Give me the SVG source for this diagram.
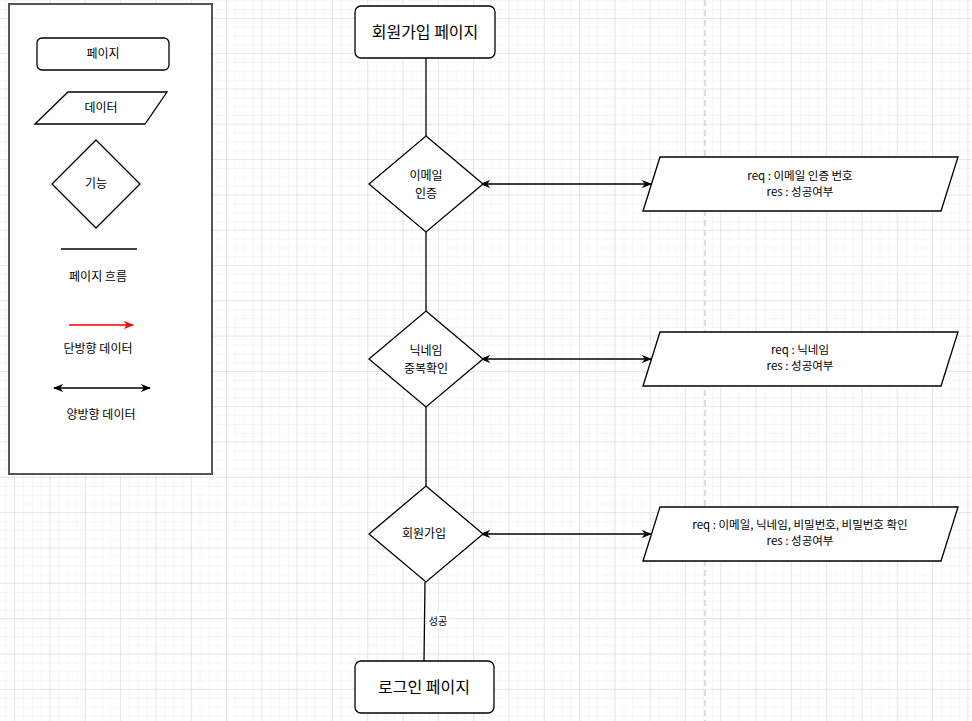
<svg xmlns="http://www.w3.org/2000/svg" width="972" height="721" viewBox="0 0 972 721">
<defs>
<pattern id="minor" x="14.2" y="17.9" width="8.83" height="8.83" patternUnits="userSpaceOnUse"><path d="M0 0H8.83M0 0V8.83" fill="none" stroke="#f0f0f0" stroke-width="1"/></pattern>
<pattern id="major" x="14.2" y="17.9" width="35.3" height="35.3" patternUnits="userSpaceOnUse"><path d="M0 0H35.3M0 0V35.3" fill="none" stroke="#d6d6d6" stroke-width="1"/></pattern>
<marker id="ah" viewBox="0 0 10 10" refX="9" refY="5" markerWidth="8" markerHeight="8" orient="auto-start-reverse"><path d="M0 1L10 5L0 9L3 5Z" fill="#000"/></marker>
<marker id="ahr" viewBox="0 0 10 10" refX="9" refY="5" markerWidth="8" markerHeight="8" orient="auto"><path d="M0 1L10 5L0 9L3 5Z" fill="#f00"/></marker>
</defs>
<style>
.s{fill:#fff;stroke:#000;stroke-width:1.3}
.t{font-family:"Noto Sans CJK KR","Liberation Sans",sans-serif;font-size:12px;text-anchor:middle;fill:#000}
.d{font-family:"Noto Sans CJK KR","Liberation Sans",sans-serif;font-size:11.5px;text-anchor:middle;fill:#000}
.tb{font-family:"Noto Sans CJK KR","Liberation Sans",sans-serif;font-size:16px;text-anchor:middle;fill:#000}
.l{stroke:#000;stroke-width:1.3;fill:none}
</style>
<rect width="972" height="721" fill="#fff"/>
<rect width="972" height="721" fill="url(#minor)"/>
<rect width="972" height="721" fill="url(#major)"/>
<line x1="705" y1="0" x2="705" y2="721" stroke="#ddd" stroke-width="2" stroke-dasharray="6 4"/>
<g id="legend">
<rect x="9" y="4" width="203" height="470" fill="#fff" stroke="#555" stroke-width="2"/>
<rect x="37" y="38" width="132" height="32" rx="5" class="s"/><text x="103" y="58" class="t">페이지</text>
<path d="M35 124L68 92H167L145 124Z" class="s"/><text x="101" y="112" class="t">데이터</text>
<path d="M96 140L140 184L96 228L52 184Z" class="s"/><text x="96" y="188" class="t">기능</text>
<line x1="61" y1="249" x2="137" y2="249" class="l"/><text x="98" y="281" class="t">페이지 흐름</text>
<line x1="69" y1="325" x2="133" y2="325" stroke="#f00" stroke-width="1.3" marker-end="url(#ahr)"/><text x="98" y="353" class="t">단방향 데이터</text>
<line x1="54" y1="388" x2="150" y2="388" class="l" marker-start="url(#ah)" marker-end="url(#ah)"/><text x="101" y="419" class="t">양방향 데이터</text>
</g>
<g id="connectors">
<line x1="426" y1="58" x2="426" y2="136" class="l"/>
<line x1="426" y1="232" x2="426" y2="311" class="l"/>
<line x1="426" y1="407" x2="426" y2="486" class="l"/>
<line x1="425" y1="582" x2="424" y2="661" class="l"/>
<rect x="427" y="613" width="22" height="16" fill="#fff"/><text x="438" y="625" class="t" style="font-size:10px">성공</text>
<line x1="481" y1="184" x2="651" y2="184" class="l" marker-start="url(#ah)" marker-end="url(#ah)"/>
<line x1="481" y1="359" x2="651" y2="359" class="l" marker-start="url(#ah)" marker-end="url(#ah)"/>
<line x1="481" y1="534" x2="651" y2="534" class="l" marker-start="url(#ah)" marker-end="url(#ah)"/>
</g>
<g id="signup"><rect x="355" y="6" width="140" height="52" rx="6" class="s"/><text x="425" y="38" class="tb">회원가입 페이지</text></g>
<g id="email"><path d="M426 136L483 184L426 232L369 184Z" class="s"/><text x="426" y="180" class="t">이메일</text><text x="426" y="198" class="t">인증</text></g>
<g id="nick"><path d="M426 311L483 359L426 407L369 359Z" class="s"/><text x="426" y="355" class="t">닉네임</text><text x="426" y="373" class="t">중복확인</text></g>
<g id="join"><path d="M426 486L483 534L426 582L369 534Z" class="s"/><text x="424" y="538" class="t">회원가입</text></g>
<g id="login"><rect x="355" y="661" width="139" height="52" rx="6" class="s"/><text x="424" y="693" class="tb">로그인 페이지</text></g>
<g id="d1"><path d="M643 211L660 157H958L941 211Z" class="s"/><text x="800" y="180" class="d">req : 이메일 인증 번호</text><text x="800" y="196" class="d">res : 성공여부</text></g>
<g id="d2"><path d="M643 386L660 332H958L941 386Z" class="s"/><text x="800" y="354" class="d">req : 닉네임</text><text x="800" y="370" class="d">res : 성공여부</text></g>
<g id="d3"><path d="M643 561L660 507H958L941 561Z" class="s"/><text x="800" y="529" class="d">req : 이메일, 닉네임, 비밀번호, 비밀번호 확인</text><text x="800" y="545" class="d">res : 성공여부</text></g>
</svg>
